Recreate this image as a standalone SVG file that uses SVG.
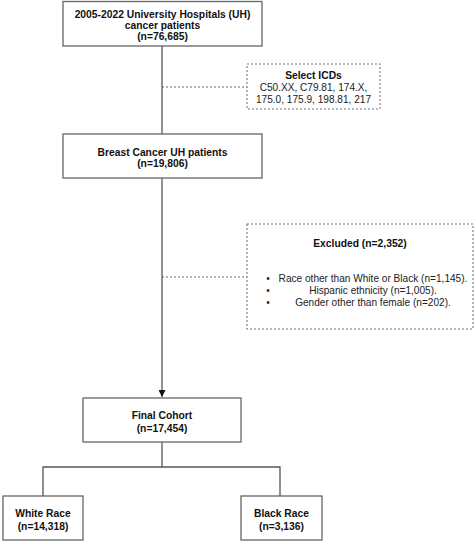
<svg xmlns="http://www.w3.org/2000/svg" width="474" height="543" viewBox="0 0 474 543">
<style>
.box{fill:#fff;stroke:#666;stroke-width:1.3}
.dbox{fill:#fff;stroke:#777;stroke-width:1.1;stroke-dasharray:2 2}
.ln{fill:none;stroke:#555;stroke-width:1.3}
.dl{fill:none;stroke:#666;stroke-width:1;stroke-dasharray:2 2}
.b{font-family:"Liberation Sans",Arial,sans-serif;font-size:10.3px;font-weight:bold;fill:#111;text-anchor:middle}
.r{font-family:"Liberation Sans",Arial,sans-serif;font-size:10.1px;fill:#222;text-anchor:middle}
</style>
<defs>
<marker id="arr" viewBox="0 0 10 10" refX="10" refY="5" markerWidth="7" markerHeight="7" markerUnits="userSpaceOnUse" orient="auto">
<path d="M0,0 L10,5 L0,10 z" fill="#111"/>
</marker>
</defs>
<g id="connectors">
<line class="ln" x1="162" y1="46" x2="162" y2="134"/>
<line class="dl" x1="162" y1="87" x2="247" y2="87"/>
<line class="ln" x1="162" y1="178" x2="162" y2="397" marker-end="url(#arr)"/>
<line class="dl" x1="162" y1="277" x2="247" y2="277"/>
<polyline class="ln" points="162,442 162,467"/>
<polyline class="ln" points="43,496 43,467 280,467 280,496"/>
</g>
<g id="n_uh">
<rect class="box" x="63" y="1.5" width="199" height="44.5"/>
<text class="b" x="162.5" y="17.5">2005-2022 University Hospitals (UH)</text>
<text class="b" x="162.5" y="28.5">cancer patients</text>
<text class="b" x="162.5" y="39.5">(n=76,685)</text>
</g>
<g id="n_icd">
<rect class="dbox" x="247" y="64" width="133" height="45"/>
<text class="b" x="313.5" y="78.5">Select ICDs</text>
<text class="r" x="313.5" y="90.5">C50.XX, C79.81, 174.X,</text>
<text class="r" x="313.5" y="102.5">175.0, 175.9, 198.81, 217</text>
</g>
<g id="n_breast">
<rect class="box" x="63" y="134" width="199" height="44"/>
<text class="b" x="162.5" y="155.5">Breast Cancer UH patients</text>
<text class="b" x="162.5" y="167">(n=19,806)</text>
</g>
<g id="n_excluded">
<rect class="dbox" x="247" y="224" width="226" height="105"/>
<text class="b" x="360" y="246.5">Excluded (n=2,352)</text>
<text class="r" x="268" y="281.5">•</text>
<text class="r" x="268" y="293.5">•</text>
<text class="r" x="268" y="305.5">•</text>
<text class="r" x="373" y="281.5">Race other than White or Black (n=1,145).</text>
<text class="r" x="373" y="293.5">Hispanic ethnicity (n=1,005).</text>
<text class="r" x="373" y="305.5">Gender other than female (n=202).</text>
</g>
<g id="n_final">
<rect class="box" x="83" y="398" width="158" height="44"/>
<text class="b" x="162" y="418.5">Final Cohort</text>
<text class="b" x="162" y="431.5">(n=17,454)</text>
</g>
<g id="n_white">
<rect class="box" x="3" y="496" width="80" height="44"/>
<text class="b" x="43" y="516.5">White Race</text>
<text class="b" x="43" y="529.5">(n=14,318)</text>
</g>
<g id="n_black">
<rect class="box" x="241" y="496" width="81" height="44"/>
<text class="b" x="281.5" y="516.5">Black Race</text>
<text class="b" x="281.5" y="529.5">(n=3,136)</text>
</g>
</svg>
